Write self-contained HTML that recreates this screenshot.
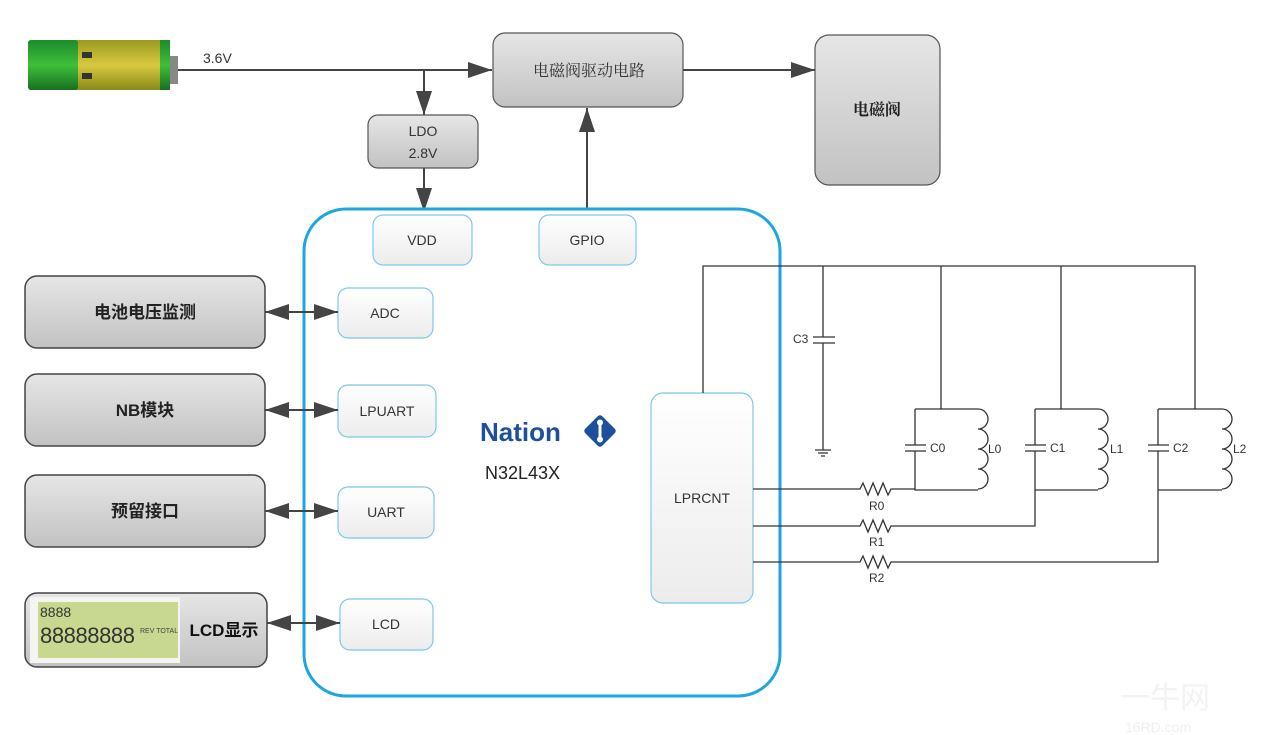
<!DOCTYPE html>
<html><head><meta charset="utf-8"><style>
html,body{margin:0;padding:0;background:#fff;width:1271px;height:735px;overflow:hidden}
svg{display:block}
text{font-family:"Liberation Sans","Noto Sans CJK SC",sans-serif}
.serif{font-family:"Liberation Serif","Noto Serif CJK SC",serif}
</style></head><body>
<svg width="1271" height="735" viewBox="0 0 1271 735" xmlns="http://www.w3.org/2000/svg">
<defs>
<linearGradient id="g" x1="0" y1="0" x2="0" y2="1"><stop offset="0" stop-color="#e6e6e6"/><stop offset="1" stop-color="#c2c2c2"/></linearGradient>
<linearGradient id="w" x1="0" y1="0" x2="0" y2="1"><stop offset="0" stop-color="#ffffff"/><stop offset="1" stop-color="#ececec"/></linearGradient>
<linearGradient id="bat" x1="0" y1="0" x2="0" y2="1"><stop offset="0" stop-color="#1e8a2a"/><stop offset="0.5" stop-color="#3fbf3a"/><stop offset="1" stop-color="#177020"/></linearGradient>
<linearGradient id="baty" x1="0" y1="0" x2="0" y2="1"><stop offset="0" stop-color="#9a9a20"/><stop offset="0.5" stop-color="#d8c840"/><stop offset="1" stop-color="#8a8a18"/></linearGradient>
<marker id="A" viewBox="0 0 24 16" markerWidth="24" markerHeight="16" refX="24" refY="8" orient="auto" markerUnits="userSpaceOnUse"><path d="M0,0 L24,8 L0,16 z" fill="#444"/></marker>
<marker id="As" viewBox="0 0 24 16" markerWidth="24" markerHeight="16" refX="0" refY="8" orient="auto" markerUnits="userSpaceOnUse"><path d="M24,0 L0,8 L24,16 z" fill="#444"/></marker>
</defs>

<rect x="28" y="40" width="142" height="50" rx="3" fill="url(#baty)"/>
<rect x="28" y="40" width="50" height="50" rx="3" fill="url(#bat)"/>
<rect x="160" y="40" width="10" height="50" fill="url(#bat)"/>
<rect x="170" y="56" width="8" height="28" fill="#888"/>
<rect x="82" y="52" width="10" height="6" fill="#333"/><rect x="82" y="73" width="10" height="6" fill="#333"/>
<text x="203" y="63" font-size="14" fill="#333">3.6V</text>
<line x1="178" y1="70" x2="492" y2="70" stroke="#444" stroke-width="2" marker-end="url(#A)"/>
<line x1="424" y1="70" x2="424" y2="115" stroke="#444" stroke-width="2" marker-end="url(#A)"/>

<rect x="493" y="33" width="190" height="74" rx="12" fill="url(#g)" stroke="#555" stroke-width="1.2"/>
<text x="589" y="76" font-size="16" text-anchor="middle" fill="#333" class="serif">电磁阀驱动电路</text>
<line x1="683" y1="70" x2="815" y2="70" stroke="#444" stroke-width="2" marker-end="url(#A)"/>
<rect x="815" y="35" width="125" height="150" rx="14" fill="url(#g)" stroke="#555" stroke-width="1.2"/>
<text x="877" y="115" font-size="16" font-weight="bold" text-anchor="middle" fill="#222" class="serif">电磁阀</text>

<rect x="368" y="115" width="110" height="53" rx="10" fill="url(#g)" stroke="#555" stroke-width="1.2"/>
<text x="423" y="136" font-size="14" text-anchor="middle" fill="#333">LDO</text>
<text x="423" y="158" font-size="14" text-anchor="middle" fill="#333">2.8V</text>
<line x1="424" y1="168" x2="424" y2="212" stroke="#444" stroke-width="2" marker-end="url(#A)"/>
<line x1="587" y1="215" x2="587" y2="108" stroke="#444" stroke-width="2" marker-end="url(#A)"/>

<rect x="304" y="209" width="476" height="487" rx="42" fill="#fff" stroke="#1ea6de" stroke-width="3"/>
<g stroke="#7cc8e8" stroke-width="1.2" fill="url(#w)">
<rect x="373" y="215" width="99" height="50" rx="10"/>
<rect x="539" y="215" width="97" height="50" rx="10"/>
<rect x="338" y="288" width="95" height="50" rx="10"/>
<rect x="338" y="385" width="98" height="52" rx="10"/>
<rect x="338" y="487" width="96" height="51" rx="10"/>
<rect x="340" y="599" width="93" height="51" rx="10"/>
<rect x="651" y="393" width="102" height="210" rx="12"/>
</g>
<g font-size="14" text-anchor="middle" fill="#333">
<text x="422" y="245">VDD</text>
<text x="587" y="245">GPIO</text>
<text x="385" y="318">ADC</text>
<text x="387" y="416">LPUART</text>
<text x="386" y="517">UART</text>
<text x="386" y="629">LCD</text>
<text x="702" y="503">LPRCNT</text>
</g>
<text x="480" y="441" font-size="26" font-weight="bold" fill="#1d4f9c">Nation</text>
<g transform="translate(600,431) rotate(45)">
<rect x="-12" y="-12" width="24" height="24" rx="3" fill="#1d4f9c"/>
<path d="M-6,-6 L6,6" stroke="#fff" stroke-width="3"/>
<circle cx="-6" cy="-6" r="3" fill="#fff"/><circle cx="6" cy="6" r="3" fill="#fff"/>
</g>
<text x="485" y="479" font-size="18" fill="#222">N32L43X</text>

<g fill="url(#g)" stroke="#444" stroke-width="1.5">
<rect x="25" y="276" width="240" height="72" rx="12"/>
<rect x="25" y="374" width="240" height="72" rx="12"/>
<rect x="25" y="475" width="240" height="72" rx="12"/>
<rect x="25" y="593" width="242" height="74" rx="12"/>
</g>
<g font-size="17" font-weight="bold" text-anchor="middle" fill="#222" class="serif">
<text x="145" y="318">电池电压监测</text>
<text x="145" y="416">NB模块</text>
<text x="145" y="517">预留接口</text>
</g>
<rect x="30" y="597" width="150" height="66" fill="#f4f4f0"/>
<rect x="38" y="602" width="140" height="56" fill="#c8d890"/>
<text x="40" y="617" font-size="14" fill="#333">8888</text>
<text x="40" y="643" font-size="22" fill="#333" textLength="95">88888888</text>
<text x="140" y="633" font-size="7" fill="#444">REV TOTAL</text>
<text x="224" y="636" font-size="17" font-weight="bold" text-anchor="middle" fill="#111">LCD显示</text>
<g stroke="#444" stroke-width="2">
<line x1="265" y1="312" x2="338" y2="312" marker-start="url(#As)" marker-end="url(#A)"/>
<line x1="265" y1="410" x2="338" y2="410" marker-start="url(#As)" marker-end="url(#A)"/>
<line x1="265" y1="511" x2="338" y2="511" marker-start="url(#As)" marker-end="url(#A)"/>
<line x1="267" y1="623" x2="340" y2="623" marker-start="url(#As)" marker-end="url(#A)"/>
</g>

<g stroke="#333" stroke-width="1.3" fill="none">
<path d="M703,393 V266 H1195 V409"/>
<path d="M823,266 V337 M813,337 H835 M813,343 H835 M823,343 V450 M815,450 H831 M818,453 H828 M821,456 H825"/>
<path d="M941,266 V409 M1061,266 V409"/>
<path d="M915,409 H978 M915,409 V445 M905,445 H926 M905,451 H926 M915,451 V490 H978"/>
<path d="M978,409 a8,8 0 0 1 0,20 a8,8 0 0 1 0,20 a8,8 0 0 1 0,20 a8,8 0 0 1 0,20"/>
<path d="M1035,409 H1098 M1035,409 V445 M1025,445 H1046 M1025,451 H1046 M1035,451 V490 H1098"/>
<path d="M1098,409 a8,8 0 0 1 0,20 a8,8 0 0 1 0,20 a8,8 0 0 1 0,20 a8,8 0 0 1 0,20"/>
<path d="M1158,409 H1222 M1158,409 V445 M1148,445 H1169 M1148,451 H1169 M1158,451 V490 H1222"/>
<path d="M1222,409 a8,8 0 0 1 0,20 a8,8 0 0 1 0,20 a8,8 0 0 1 0,20 a8,8 0 0 1 0,20"/>
<path d="M753,489 H860 l3,-6 l5,12 l5,-12 l5,12 l5,-12 l5,12 l3,-6 H915"/>
<path d="M753,526 H860 l3,-6 l5,12 l5,-12 l5,12 l5,-12 l5,12 l3,-6 H1035 V490"/>
<path d="M753,562 H860 l3,-6 l5,12 l5,-12 l5,12 l5,-12 l5,12 l3,-6 H1158 V490"/>
</g>
<g font-size="12" fill="#333">
<text x="793" y="343" font-family="Liberation Serif, serif">C3</text>
<text x="930" y="452" font-family="Liberation Serif, serif">C0</text><text x="988" y="453" font-family="Liberation Serif, serif">L0</text>
<text x="1050" y="452" font-family="Liberation Serif, serif">C1</text><text x="1110" y="453" font-family="Liberation Serif, serif">L1</text>
<text x="1173" y="452" font-family="Liberation Serif, serif">C2</text><text x="1233" y="453" font-family="Liberation Serif, serif">L2</text>
<text x="869" y="510" font-family="Liberation Serif, serif">R0</text><text x="869" y="546" font-family="Liberation Serif, serif">R1</text><text x="869" y="582" font-family="Liberation Serif, serif">R2</text>
</g>
<text x="1120" y="708" font-size="30" fill="#f3f3f3">一牛网</text>
<text x="1125" y="732" font-size="14" fill="#f0f0f0">16RD.com</text>
</svg>
</body></html>
